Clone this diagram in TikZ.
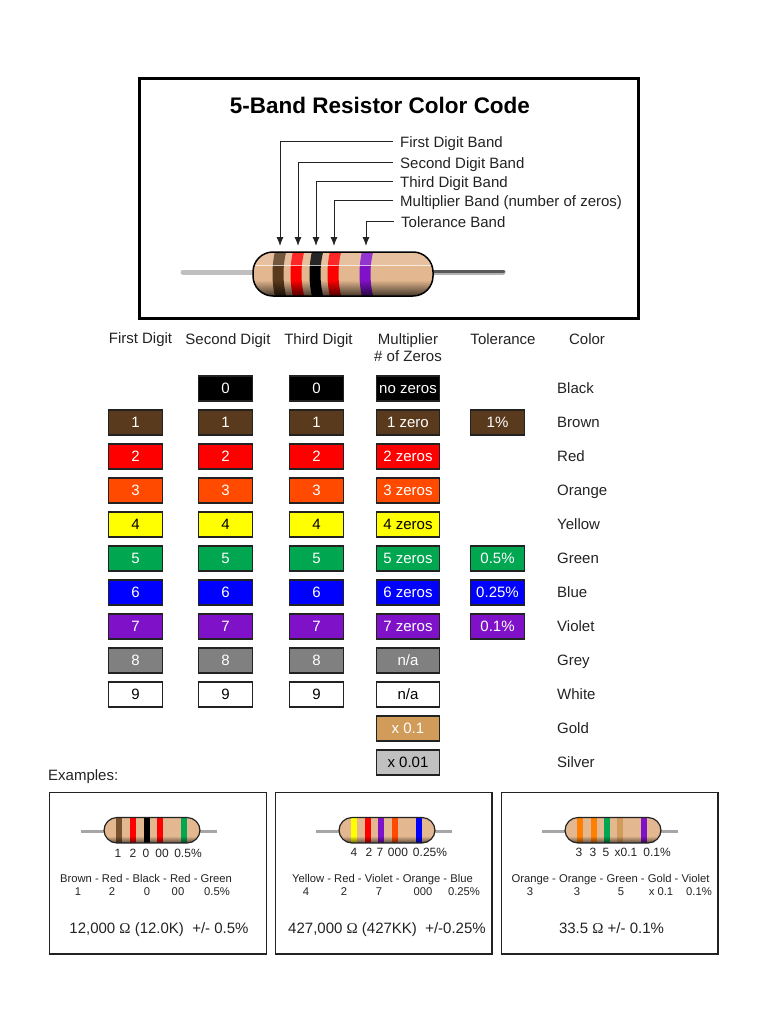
\documentclass[tikz,border=0pt]{standalone}
\usepackage{fontspec}
\setmainfont{Liberation Sans}
\newfontfamily\ohmfont{Liberation Serif}
\usetikzlibrary{arrows.meta,fadings}

\definecolor{cbrown}{HTML}{5A3A1C}
\definecolor{cred}{HTML}{FF0000}
\definecolor{corange}{HTML}{FF4A00}
\definecolor{cyellow}{HTML}{FFFF00}
\definecolor{cgreen}{HTML}{00A650}
\definecolor{cblue}{HTML}{0000FF}
\definecolor{cviolet}{HTML}{7F12C8}
\definecolor{cgrey}{HTML}{808080}
\definecolor{cgold}{HTML}{D19B5A}
\definecolor{csilver}{HTML}{C0C0C0}
\definecolor{ctan}{HTML}{E3B78F}
\definecolor{cink}{HTML}{222222}

\tikzset{
  lbl/.style={font=\fontsize{15}{18}\selectfont, text=cink, inner sep=0pt, text height=10.8pt, text depth=0pt},
  bandlbl/.style={lbl, anchor=west, inner xsep=7pt},
  colorbox/.style={draw=cink, line width=1.2pt, minimum width=54pt, minimum height=25pt,
    inner sep=0pt, font=\fontsize{15}{18}\selectfont, text height=10.8pt, text depth=0pt, fill=#1},
  widebox/.style={colorbox=#1, minimum width=63pt},
  framebox/.style={draw=cink, line width=1.2pt},
  small/.style={font=\fontsize{12}{14}\selectfont, text=cink, inner sep=0pt, text height=8.6pt, text depth=0pt},
  tiny/.style={font=\fontsize{11.25}{13}\selectfont, text=cink, inner sep=0pt, text height=8.1pt, text depth=0pt},
  leader/.style={draw=cink, line width=1pt, -{Latex[length=9pt,width=7pt]}},
}

\begin{document}
\begin{tikzpicture}[x=1pt,y=-1pt]
  \useasboundingbox (0,0) rectangle (768,1024);

  % top panel
  \draw [line width=3pt, draw=black] (139,79) rectangle (638.5,318.5);
  \node [font=\bfseries\fontsize{22.5}{26}\selectfont, inner sep=0pt] (title) at (380,105) {5-Band Resistor Color Code};

  \node [bandlbl] (lblfirst) at (393,142) {First Digit Band};
  \node [bandlbl] (lblsecond) at (393,163) {Second Digit Band};
  \node [bandlbl] (lblthird) at (393,182) {Third Digit Band};
  \node [bandlbl] (lblmult) at (393,201) {Multiplier Band (number of zeros)};
  \node [bandlbl] (lbltol) at (394,222) {Tolerance Band};

  \foreach \name/\x in {first/280, second/298, third/316, mult/334, tol/366} {
    \coordinate (tip\name) at (\x,246);
    \draw [leader] (lbl\name.west) -| (tip\name);
  }

  % big resistor
  \draw [line width=5pt, draw=gray!50, line cap=round] (183,272) -- (255,272);
  \draw [line width=5pt, draw=gray!60, line cap=round] (431,272) -- (503,272);
  \draw [line width=2.5pt, draw=black!65, line cap=round] (431,271.5) -- (504,271.5);
  \begin{scope}
    \clip [rounded corners=20pt] (253,252) rectangle (433,296);
    \fill [ctan] (253,252) rectangle (433,296);
    \foreach \x/\bandcol in {281/cbrown, 299/cred, 318/black, 336/cred, 368/cviolet}
      \draw [line width=11pt, draw=\bandcol] (\x,250) .. controls (\x-4,265) and (\x-4,283) .. (\x,298);
    \fill [white, opacity=0.15] (253,252) rectangle (433,265);
    \fill [white, opacity=0.7] (253,264.5) rectangle (433,266);
    \fill [black, opacity=0.7, path fading=north] (253,280) rectangle (433,296);
  \end{scope}
  \draw [line width=1.5pt, rounded corners=20pt] (253,252) rectangle (433,296);

  % column heads
  \node [lbl] (headfirst) at (140.5,338) {First Digit};
  \node [lbl] (headsecond) at (228,339) {Second Digit};
  \node [lbl] (headthird) at (318.5,339) {Third Digit};
  \node [lbl] (headmult) at (408,339) {Multiplier};
  \node [lbl] (headzeros) at (408,356) {\# of Zeros};
  \node [lbl] (headtol) at (503,339) {Tolerance};
  \node [lbl] (headcolor) at (587,339) {Color};

  % digit boxes
  \foreach \digit/\y/\boxcol/\ink in {1/422.5/cbrown/white, 2/456.5/cred/white, 3/490.5/corange/white,
      4/524.5/cyellow/black, 5/558.5/cgreen/white, 6/592.5/cblue/white, 7/626.5/cviolet/white,
      8/660.5/cgrey/white, 9/694.5/white/black} {
    \node [colorbox=\boxcol, text=\ink] (a\digit) at (135.5,\y) {\digit};
    \node [colorbox=\boxcol, text=\ink] (b\digit) at (225.5,\y) {\digit};
    \node [colorbox=\boxcol, text=\ink] (c\digit) at (316.5,\y) {\digit};
  }
  \node [colorbox=black, text=white] (b0) at (225.5,388.5) {0};
  \node [colorbox=black, text=white] (c0) at (316.5,388.5) {0};

  % multiplier boxes
  \foreach \txt/\y/\boxcol/\ink [count=\i] in {no zeros/388.5/black/white, 1 zero/422.5/cbrown/white,
      2 zeros/456.5/cred/white, 3 zeros/490.5/corange/white, 4 zeros/524.5/cyellow/black,
      5 zeros/558.5/cgreen/white, 6 zeros/592.5/cblue/white, 7 zeros/626.5/cviolet/white,
      {n/a}/660.5/cgrey/white, {n/a}/694.5/white/black, x 0.1/728.5/cgold/white, x 0.01/762.5/csilver/black}
    \node [widebox=\boxcol, text=\ink] (m\i) at (408,\y) {\txt};

  % tolerance boxes
  \foreach \txt/\y/\boxcol [count=\i] in {1\%/422.5/cbrown, 0.5\%/558.5/cgreen, 0.25\%/592.5/cblue, 0.1\%/626.5/cviolet}
    \node [colorbox=\boxcol, text=white] (t\i) at (497.5,\y) {\txt};

  % color names
  \foreach \txt/\y in {Black/388, Brown/422, Red/456, Orange/490, Yellow/524, Green/558,
      Blue/592, Violet/626, Grey/660, White/694, Gold/728, Silver/762}
    \node [lbl, anchor=west] (n\txt) at (557,\y) {\txt};

  % examples
  \node [lbl, anchor=west] (examples) at (48,775) {Examples:};
  \draw [framebox] (49.5,792.5) rectangle (266.5,954);
  \draw [framebox] (275.5,792.5) rectangle (492,954);
  \draw [framebox] (501.5,792.5) rectangle (718,954);

  \foreach \lo/\hi/\bandlist in {
      104/200/{119/cbrown!75!cgold, 133/cred, 147/black, 160/cred, 184/cgreen},
      339/435/{354/cyellow, 368/cred, 381/cviolet, 395/corange, 419/cblue},
      565/661/{580/orange, 594/orange, 607/cgreen, 620/cgold, 644/cviolet}} {
    \draw [line width=3pt, draw=gray!70] (\lo-23,831) -- (\hi+17,831);
    \begin{scope}
      \clip [rounded corners=13pt] (\lo,817.5) rectangle (\hi,843);
      \fill [ctan] (\lo,817) rectangle (\hi,843);
      \foreach \bx/\bandcol in \bandlist
        \fill [\bandcol] (\bx-2.7,817) rectangle (\bx+2.7,843);
      \fill [black, opacity=0.6, path fading=north] (\lo,836) rectangle (\hi,843);
    \end{scope}
    \draw [line width=1.2pt, draw=cink, rounded corners=13pt] (\lo,817.5) rectangle (\hi,843);
  }

  % digits under the resistors
  \foreach \x/\y/\txt [count=\i] in {118/853/1, 133/853/2, 146/853/0, 162/853/00, 188/853/0.5\%,
      354/852/4, 369/852/2, 380/852/7, 398/852/000, 430/852/0.25\%,
      579/852/3, 593/852/3, 606/852/5, 626/852/x0.1, 657/852/0.1\%}
    \node [small] (u\i) at (\x,\y) {\txt};

  \node [tiny] (names1) at (146,878) {Brown - Red - Black - Red - Green};
  \node [tiny] (names2) at (382.5,878) {Yellow - Red - Violet - Orange - Blue};
  \node [tiny] (names3) at (610.5,878) {Orange - Orange - Green - Gold - Violet};

  \foreach \x/\txt [count=\i] in {78/1, 112/2, 147/0, 178/00, 217/0.5\%,
      306/4, 344/2, 379/7, 423/000, 464/0.25\%,
      530/3, 577/3, 621/5, 661/x 0.1, 699/0.1\%}
    \node [tiny] (v\i) at (\x,891) {\txt};

  \node [lbl] (sum1) at (159,928) {12,000 {\ohmfont Ω} (12.0K)\ \ +/- 0.5\%};
  \node [lbl] (sum2) at (387,928) {427,000 {\ohmfont Ω} (427KK)\ \ +/-0.25\%};
  \node [lbl] (sum3) at (611.5,928) {33.5 {\ohmfont Ω} +/- 0.1\%};
\end{tikzpicture}
\end{document}
